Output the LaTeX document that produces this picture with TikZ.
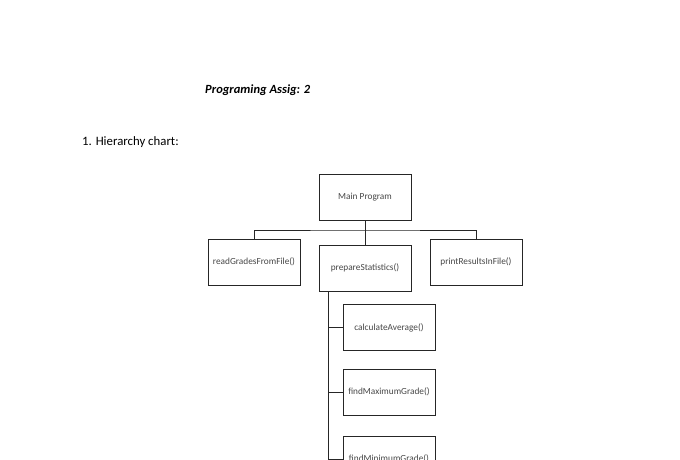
\documentclass[tikz,border=0pt]{standalone}
\usepackage{fontspec}
\setmainfont{Carlito}
\begin{document}
\begin{tikzpicture}[x=1pt,y=-1pt,
  box/.style={draw=black!85, line width=0.8pt, minimum width=92pt, minimum height=46pt, inner sep=0pt, font=\fontsize{9.3}{11}\selectfont, text=black!72},
  conn/.style={draw=black!85, line width=0.8pt}]
\useasboundingbox (0,0) rectangle (680,459);
\clip (0,0) rectangle (680,459);
\fill[white] (0,0) rectangle (680,459);
\node[font=\fontsize{12.5}{14}\selectfont\bfseries\itshape, anchor=west, inner sep=0pt] (title) at (205,90) {Programing Assig: 2};
\node[font=\fontsize{12.8}{15}\selectfont, anchor=west, inner sep=0pt] (sub) at (82,142) {1. Hierarchy chart:};
\node[box] (main) at (365,197) {Main Program};
\node[box] (read) at (254,262) {readGradesFromFile()};
\node[box] (prep) at (365,268) {prepareStatistics()};
\node[box] (print) at (476,262) {printResultsInFile()};
\node[box] (avg) at (389,327.5) {calculateAverage()};
\node[box] (max) at (389,392) {findMaximumGrade()};
\node[box] (min) at (389,459) {findMinimumGrade()};
\coordinate (bus) at (365,230);
\coordinate (trunk) at (328,470);
\draw[conn] (main.south) -- (prep.north);
\draw[conn] (read.north) |- (bus) -| (print.north);
\draw[conn] (prep.south -| trunk) -- (trunk);
\draw[conn] (avg.west) -- (avg.west -| trunk);
\draw[conn] (max.west) -- (max.west -| trunk);
\draw[conn] (min.west) -- (min.west -| trunk);
\end{tikzpicture}
\end{document}
